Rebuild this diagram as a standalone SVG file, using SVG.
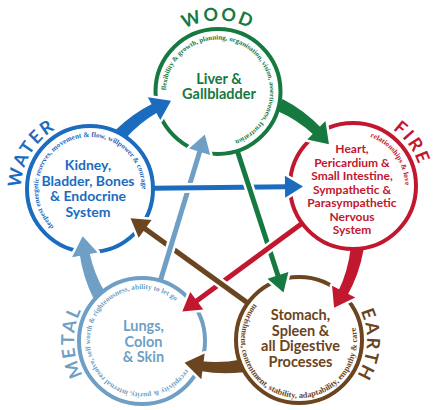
<svg xmlns="http://www.w3.org/2000/svg" width="436" height="410" viewBox="0 0 436 410">
<defs>
<style>
.ring{fill:#fff;stroke-width:4}
.ct{font-family:Lato,"Open Sans","DejaVu Sans",sans-serif;font-weight:700;text-anchor:middle}
.lbl{font-family:Lato,"Open Sans",sans-serif;font-size:18px;font-weight:700;letter-spacing:2px;text-anchor:middle}
.arc{font-family:"Liberation Serif","Times New Roman",serif;font-weight:700;text-anchor:middle}
.hl{fill:none;stroke:#fff;stroke-width:10}
.hh{fill:#fff;stroke:#fff;stroke-width:5;stroke-linejoin:round}
.tl{fill:none;stroke-width:5}
</style>
<path id="ht" d="M0,0 L-18,-11 L-18,11 Z"/>
<path id="hk" d="M138,0 L149.6,-20.49 L123.84,-16.97 Z"/>
<path id="pWoodIn" d="M170.42,112.48 A52,52 0 1 1 212.38,143.2"/>
<path id="pWoodOut" d="M182.5,152.99 A71,71 0 1 1 253.5,152.99"/>
<path id="pFireIn" d="M301.27,191.26 A52,52 0 1 1 331.68,233.43"/>
<path id="pFireOut" d="M284.38,193.21 A69,69 0 1 1 324.93,249.03"/>
<path id="pEarthIn" d="M282.28,284.46 A58,58 0 1 0 338.73,297.75"/>
<path id="pEarthOut" d="M242.63,301.98 A68,68 0 1 1 237.88,369.81"/>
<path id="pMetalIn" d="M190.46,359.85 A52,52 0 1 1 182.55,308.45"/>
<path id="pMetalOut" d="M201.47,373.97 A68,68 0 1 1 200.29,305.98"/>
<path id="pWaterIn" d="M83.66,240.61 A52,52 0 1 1 131.53,220.29"/>
<path id="pWaterOut" d="M123.45,249.35 A69,69 0 1 1 158.99,190.2"/>
</defs>

<g id="wood">
<circle class="ring" cx="218" cy="91.5" r="62.5" stroke="#16793f"/>
<text class="ct" fill="#16793f" font-size="14.5"><tspan x="219" y="83.5">Liver &amp;</tspan><tspan x="219" y="99">Gallbladder</tspan></text>
<text class="arc" fill="#16793f" font-size="6.9"><textPath href="#pWoodIn" startOffset="50%">flexibility &amp; growth, planning, organisation, vision, assertiveness, frustration</textPath></text>
<text class="lbl" fill="#16793f"><textPath href="#pWoodOut" startOffset="50%">WOOD</textPath></text>
</g>

<g id="fire">
<circle class="ring" cx="353" cy="186" r="63" stroke="#c1172f"/>
<text class="ct" fill="#c1172f" font-size="12"><tspan x="352" y="153">Heart,</tspan><tspan x="352" y="166.5">Pericardium &amp;</tspan><tspan x="352" y="180">Small Intestine,</tspan><tspan x="352" y="193.5">Sympathetic &amp;</tspan><tspan x="352" y="207">Parasympathetic</tspan><tspan x="352" y="220.5">Nervous</tspan><tspan x="352" y="234">System</tspan></text>
<text class="arc" fill="#c1172f" font-size="7.4"><textPath href="#pFireIn" startOffset="50%">relationships &amp; love</textPath></text>
<text class="lbl" fill="#c1172f"><textPath href="#pFireOut" startOffset="50%">FIRE</textPath></text>
</g>

<g id="earth">
<circle class="ring" cx="299" cy="340" r="63" stroke="#6b4420"/>
<text class="ct" fill="#6b4420" font-size="14.5"><tspan x="300.5" y="320">Stomach,</tspan><tspan x="300.5" y="335.7">Spleen &amp;</tspan><tspan x="300.5" y="351.4">all Digestive</tspan><tspan x="300.5" y="367">Processes</tspan></text>
<text class="arc" fill="#6b4420" font-size="8.3"><textPath href="#pEarthIn" startOffset="50%">nourishment, contentment, stability, adaptability, empathy &amp; care</textPath></text>
<text class="lbl" fill="#6b4420"><textPath href="#pEarthOut" startOffset="50%">EARTH</textPath></text>
</g>

<g id="metal">
<circle class="ring" cx="142" cy="341" r="63" stroke="#6f9fc4"/>
<text class="ct" fill="#6f9fc4" font-size="14.5"><tspan x="143.5" y="331">Lungs,</tspan><tspan x="143.5" y="346.5">Colon</tspan><tspan x="143.5" y="362">&amp; Skin</tspan></text>
<text class="arc" fill="#6f9fc4" font-size="7.3"><textPath href="#pMetalIn" startOffset="50%">receptivity &amp; purity, internal resolve, self worth &amp; righteousness, ability to let go</textPath></text>
<text class="lbl" fill="#6f9fc4"><textPath href="#pMetalOut" startOffset="50%">METAL</textPath></text>
</g>

<g id="water">
<circle class="ring" cx="90" cy="189" r="63" stroke="#1b6cbf"/>
<text class="ct" fill="#1b6cbf" font-size="14"><tspan x="88" y="170">Kidney,</tspan><tspan x="88" y="185.5">Bladder, Bones</tspan><tspan x="88" y="201">&amp; Endocrine</tspan><tspan x="88" y="216.5">System</tspan></text>
<text class="arc" fill="#1b6cbf" font-size="7.2"><textPath href="#pWaterIn" startOffset="50%">deepest energetic reserves, movement &amp; flow, willpower &amp; courage</textPath></text>
<text class="lbl" fill="#1b6cbf"><textPath href="#pWaterOut" startOffset="50%">WATER</textPath></text>
</g>

<g id="connectors">
<g transform="translate(220.5,229.5) rotate(249)" fill="#1b6cbf">
<use href="#hk" class="hh"/>
<path d="M130.53,-61.98 A143.7,143.7 0 0 1 141.93,-17.43 L132.01,-16.21 A132.2,132.2 0 0 0 118.79,-56.41 Z"/>
<use href="#hk"/>
</g>
<g transform="translate(220.5,229.5) rotate(321.8)" fill="#16793f">
<use href="#hk" class="hh"/>
<path d="M129.43,-64.25 A143.7,143.7 0 0 1 141.93,-17.43 L132.01,-16.21 A132.2,132.2 0 0 0 117.79,-58.47 Z"/>
<use href="#hk"/>
</g>
<g transform="translate(220.5,229.5) rotate(34.6)" fill="#c1172f">
<use href="#hk" class="hh"/>
<path d="M129.43,-64.25 A143.7,143.7 0 0 1 141.93,-17.43 L132.01,-16.21 A132.2,132.2 0 0 0 117.79,-58.47 Z"/>
<use href="#hk"/>
</g>
<g transform="translate(220.5,229.5) rotate(105.1)" fill="#6b4420">
<use href="#hk" class="hh"/>
<path d="M131.9,-59 A143.7,143.7 0 0 1 141.93,-17.43 L132.01,-16.21 A132.2,132.2 0 0 0 120.04,-53.7 Z"/>
<use href="#hk"/>
</g>
<g transform="translate(220.5,229.5) rotate(177.2)" fill="#6f9fc4">
<use href="#hk" class="hh"/>
<path d="M130.21,-62.66 A143.7,143.7 0 0 1 141.93,-17.43 L132.01,-16.21 A132.2,132.2 0 0 0 118.49,-57.03 Z"/>
<use href="#hk"/>
</g>

<line class="hl" x1="177.34" y1="225" x2="199.64" y2="151.77"/>
<use href="#ht" class="hh" transform="translate(204.89,134.55) rotate(-73.06)"/>
<line class="tl" stroke="#6f9fc4" x1="177.34" y1="225" x2="200.23" y2="149.86"/>
<use href="#ht" fill="#6f9fc4" transform="translate(204.89,134.55) rotate(-73.06)"/>

<line class="hl" x1="161" y1="188.19" x2="285" y2="186.78"/>
<use href="#ht" class="hh" transform="translate(303,186.57) rotate(-0.65)"/>
<line class="tl" stroke="#1b6cbf" x1="153" y1="188.28" x2="287" y2="186.75"/>
<use href="#ht" fill="#1b6cbf" transform="translate(303,186.57) rotate(-0.65)"/>

<line class="hl" x1="240" y1="159" x2="277.92" y2="275.35"/>
<use href="#ht" class="hh" transform="translate(283.5,292.46) rotate(71.95)"/>
<line class="tl" stroke="#16793f" x1="237.37" y1="150.92" x2="278.54" y2="277.25"/>
<use href="#ht" fill="#16793f" transform="translate(283.5,292.46) rotate(71.95)"/>

<line class="hl" x1="295.78" y1="228.03" x2="196.81" y2="300.74"/>
<use href="#ht" class="hh" transform="translate(182.3,311.4) rotate(143.7)"/>
<line class="tl" stroke="#c1172f" x1="302.23" y1="223.3" x2="195.19" y2="301.93"/>
<use href="#ht" fill="#c1172f" transform="translate(182.3,311.4) rotate(143.7)"/>

<line class="hl" x1="241.45" y1="298.42" x2="145.12" y2="228.82"/>
<use href="#ht" class="hh" transform="translate(130.53,218.28) rotate(-144.15)"/>
<line class="tl" stroke="#6b4420" x1="247.93" y1="303.1" x2="143.5" y2="227.65"/>
<use href="#ht" fill="#6b4420" transform="translate(130.53,218.28) rotate(-144.15)"/>

<line class="hl" x1="162.69" y1="273.08" x2="177.34" y2="225"/>
<line class="tl" stroke="#6f9fc4" x1="160.36" y1="280.73" x2="177.63" y2="224.04"/>
</g>
</svg>
